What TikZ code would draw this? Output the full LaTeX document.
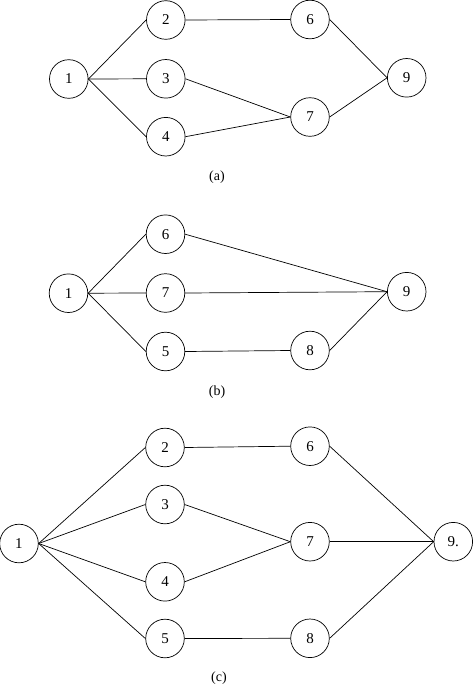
\documentclass[tikz,border=0pt]{standalone}
\usepackage{fontspec}
\setmainfont{Liberation Serif}
\begin{document}
\begin{tikzpicture}[x=1pt,y=-1pt,
  vtx/.style={circle,draw,line width=0.7pt,minimum size=38.6pt,inner sep=0pt,font=\fontsize{15}{17}\selectfont},
  edge/.style={line width=0.7pt},
  captxt/.style={font=\fontsize{14}{16}\selectfont}]
\useasboundingbox (0,0) rectangle (474,686);
% (a)
\node[vtx] (a1) at (68.8,79) {1};
\node[vtx] (a2) at (165.8,20) {2};
\node[vtx] (a3) at (165.8,78.8) {3};
\node[vtx] (a4) at (165.8,136.7) {4};
\node[vtx] (a6) at (310,19.5) {6};
\node[vtx] (a7) at (310,117) {7};
\node[vtx] (a9) at (406.7,77.8) {9};
\node[captxt] (la) at (217,177) {(a)};
\draw[edge] (a1.east) -- (a2.west);
\draw[edge] (a1.east) -- (a3.west);
\draw[edge] (a1.east) -- (a4.west);
\draw[edge] (a2.east) -- (a6.west);
\draw[edge] (a3.east) -- (a7.west);
\draw[edge] (a4.east) -- (a7.west);
\draw[edge] (a6.east) -- (a9.west);
\draw[edge] (a7.east) -- (a9.west);
% (b)
\node[vtx] (b1) at (68.5,293.2) {1};
\node[vtx] (b6) at (165.5,234.2) {6};
\node[vtx] (b7) at (165.5,293) {7};
\node[vtx] (b5) at (165.5,351.5) {5};
\node[vtx] (b8) at (310,350.5) {8};
\node[vtx] (b9) at (406.7,291.7) {9};
\node[captxt] (lb) at (217,391.7) {(b)};
\draw[edge] (b1.east) -- (b6.west);
\draw[edge] (b1.east) -- (b7.west);
\draw[edge] (b1.east) -- (b5.west);
\draw[edge] (b6.east) -- (b9.west);
\draw[edge] (b7.east) -- (b9.west);
\draw[edge] (b5.east) -- (b8.west);
\draw[edge] (b8.east) -- (b9.west);
% (c)
\node[vtx] (c1) at (19,543.5) {1};
\node[vtx] (c2) at (165,447.5) {2};
\node[vtx] (c3) at (165,504.5) {3};
\node[vtx] (c4) at (165,581.8) {4};
\node[vtx] (c5) at (165,638.5) {5};
\node[vtx] (c6) at (310,446.2) {6};
\node[vtx] (c7) at (310,541.7) {7};
\node[vtx] (c8) at (310,638.3) {8};
\node[vtx] (c9) at (453.3,541.7) {9.};
\node[captxt] (lc) at (219,678) {(c)};
\draw[edge] (c1.east) -- (c2.west);
\draw[edge] (c1.east) -- (c3.west);
\draw[edge] (c1.east) -- (c4.west);
\draw[edge] (c1.east) -- (c5.west);
\draw[edge] (c2.east) -- (c6.west);
\draw[edge] (c3.east) -- (c7.west);
\draw[edge] (c4.east) -- (c7.west);
\draw[edge] (c5.east) -- (c8.west);
\draw[edge] (c6.east) -- (c9.west);
\draw[edge] (c7.east) -- (c9.west);
\draw[edge] (c8.east) -- (c9.west);
\end{tikzpicture}
\end{document}
